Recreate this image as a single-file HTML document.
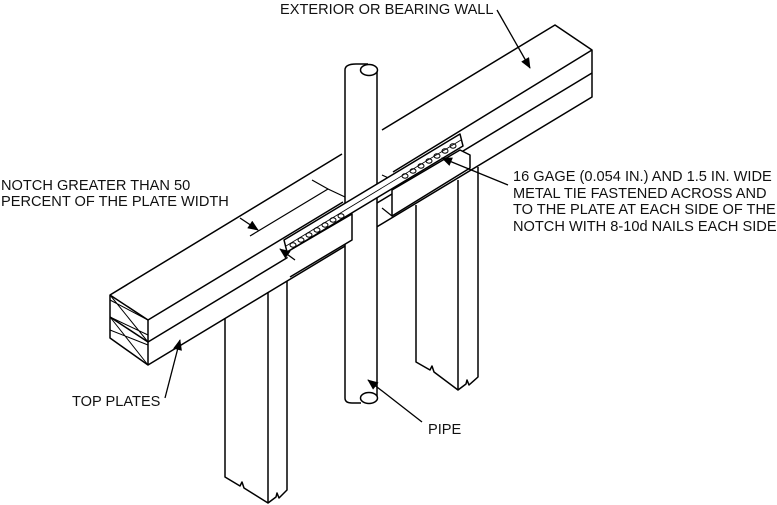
<!DOCTYPE html>
<html><head><style>
html,body{margin:0;padding:0;background:#fff;}
svg{display:block;}
text{font-family:"Liberation Sans",sans-serif;font-size:14.6px;fill:#111;}
</style></head><body>
<svg width="777" height="505" viewBox="0 0 777 505" xmlns="http://www.w3.org/2000/svg">
<defs>
<marker id="ah" viewBox="0 0 12 10" refX="11" refY="5" markerWidth="12" markerHeight="9" orient="auto-start-reverse" markerUnits="userSpaceOnUse">
<path d="M0,0 L12,5 L0,10 z" fill="#000"/>
</marker>
</defs>
<g stroke="#000" stroke-width="1.5" fill="none" stroke-linejoin="round">
<path d="M225,318 V477 L240,486 l2,-4 l2,6 L268,503 L276,497 l1,-4 l2,5 L287,490 V281" fill="#fff"/>
<line x1="268" y1="292" x2="268" y2="503"/>
<path d="M416,205 V362 L430,370 l2,-4 l2,6 L458,390 L466,384 l1,-4 l2,5 L478,377 V167" fill="#fff"/>
<line x1="458" y1="180" x2="458" y2="390"/>
<path d="M110,295 L342,154 M382,130 L555,25 L592,50 V97 L148,365 V320 L110,295 V338 L148,365"/>
<path d="M148,320 L343,202 M393,172 L592,50"/>
<path d="M148,342 L290,256 M377,203 L592,73"/>
<path d="M110,317 L148,342"/>
<path d="M110,295 L148,342 M110,300 L148,320 M110,317 L148,365 M110,330 L148,345 M110,317 L148,335" stroke-width="1"/>
<path d="M250,236 L328,189 L345,197 M382,175 L395,181" stroke-width="1.2"/>
<path d="M328,189 L312,180" stroke-width="1.2"/>
<rect x="345" y="68" width="32" height="332" fill="#fff" stroke="none"/>
<line x1="345" y1="70" x2="345" y2="398"/>
<line x1="377" y1="70" x2="377" y2="398"/>
<path d="M345,70 Q345,64 356,64 L368,64"/>
<ellipse cx="369" cy="70" rx="8.5" ry="5.5" fill="#fff"/>
<path d="M345,398 Q345,403 352,403 L361,403"/>
<ellipse cx="369" cy="398" rx="8.5" ry="5.5" fill="#fff"/>
<path d="M287,252 L352,214 V240 L290,277" fill="#fff"/>
<path d="M392,190 L460,150 L470,155 V168 L392,216 Z" fill="#fff"/>
<path d="M382,208 L392,216" stroke-width="1.2"/>
<path d="M284,240 L460,134 L463,146 L287,252 Z" fill="#fff"/>
<path d="M286,246 L461,140" stroke-width="0.8"/>
<g stroke-width="1">
<ellipse cx="293" cy="245" rx="3" ry="2.2"/><ellipse cx="301" cy="240" rx="3" ry="2.2"/><ellipse cx="309" cy="235" rx="3" ry="2.2"/><ellipse cx="317" cy="230" rx="3" ry="2.2"/><ellipse cx="325" cy="225" rx="3" ry="2.2"/><ellipse cx="333" cy="220" rx="3" ry="2.2"/><ellipse cx="341" cy="216" rx="3" ry="2.2"/>
<ellipse cx="405" cy="176" rx="3" ry="2.2"/><ellipse cx="413" cy="171" rx="3" ry="2.2"/><ellipse cx="421" cy="166" rx="3" ry="2.2"/><ellipse cx="429" cy="161" rx="3" ry="2.2"/><ellipse cx="437" cy="156" rx="3" ry="2.2"/><ellipse cx="445" cy="151" rx="3" ry="2.2"/><ellipse cx="453" cy="146" rx="3" ry="2.2"/>
</g>
<line x1="497" y1="10" x2="530" y2="68" marker-end="url(#ah)" stroke-width="1.3"/>
<line x1="240" y1="218" x2="258" y2="230" marker-end="url(#ah)" stroke-width="1.3"/>
<line x1="295" y1="260" x2="280" y2="249" marker-end="url(#ah)" stroke-width="1.3"/>
<line x1="508" y1="185" x2="442" y2="158" marker-end="url(#ah)" stroke-width="1.3"/>
<line x1="165" y1="398" x2="180" y2="340" marker-end="url(#ah)" stroke-width="1.3"/>
<line x1="422" y1="422" x2="368" y2="380" marker-end="url(#ah)" stroke-width="1.3"/>
</g>
<text x="280" y="14">EXTERIOR OR BEARING WALL</text>
<text x="1" y="190">NOTCH GREATER THAN 50</text>
<text x="1" y="206">PERCENT OF THE PLATE WIDTH</text>
<text x="513" y="181">16 GAGE (0.054 IN.) AND 1.5 IN. WIDE</text>
<text x="513" y="198">METAL TIE FASTENED ACROSS AND</text>
<text x="513" y="214">TO THE PLATE AT EACH SIDE OF THE</text>
<text x="513" y="231">NOTCH WITH 8-10d NAILS EACH SIDE</text>
<text x="72" y="406">TOP PLATES</text>
<text x="428" y="434">PIPE</text>
</svg>
</body></html>
